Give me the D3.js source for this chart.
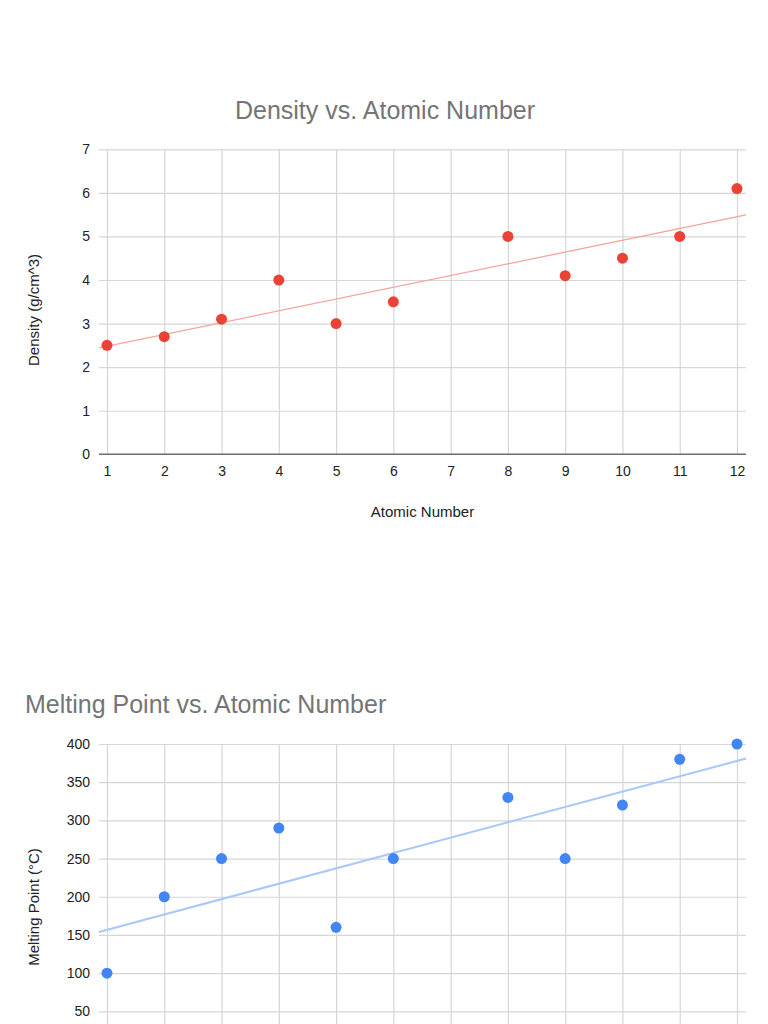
<!DOCTYPE html>
<html>
<head>
<meta charset="utf-8">
<script src="https://cdn.jsdelivr.net/npm/d3@7"></script>
<style>
  html, body { margin: 0; padding: 0; background: #fff; overflow: hidden; }
  svg { display: block; font-family: "Liberation Sans", Arial, sans-serif; }
</style>
</head>
<body>
<div id="chart"></div>
<script>
// atomic numbers (7 has no reading)
const atomicNumbers = [1, 2, 3, 4, 5, 6, 8, 9, 10, 11, 12];
const xTicks = [1, 2, 3, 4, 5, 6, 7, 8, 9, 10, 11, 12];

const densityValues = [2.5, 2.7, 3.1, 4.0, 3.0, 3.5, 5.0, 4.1, 4.5, 5.0, 6.1];
const densityTicks = [0, 1, 2, 3, 4, 5, 6, 7];

const meltingValues = [100, 200, 250, 290, 160, 250, 330, 250, 320, 380, 400];
const meltingTicks = [0, 50, 100, 150, 200, 250, 300, 350, 400];

const width = 768;
const height = 1024;

const svg = d3.select('#chart')
  .append('svg')
  .attr('width', width)
  .attr('height', height);

// least squares fit, same as the sheet's linear trendline
function linearFit(xs, ys) {
  const mx = d3.mean(xs);
  const my = d3.mean(ys);
  let sxy = 0, sxx = 0;
  xs.forEach((x, i) => {
    sxy += (x - mx) * (ys[i] - my);
    sxx += (x - mx) * (x - mx);
  });
  const slope = sxy / sxx;
  return { slope, intercept: my - slope * mx };
}

function drawChart(opts) {
  const g = svg.append('g');
  const plot = opts.plot;

  const xScale = d3.scaleLinear()
    .domain([1, 12])
    .range([plot.left + 8, plot.right - 9]);

  const yScale = d3.scaleLinear()
    .domain(d3.extent(opts.yTicks))
    .range([plot.bottom, plot.top]);

  // horizontal gridlines
  g.append('g')
    .attr('transform', `translate(${plot.left}, 0)`)
    .call(d3.axisLeft(yScale)
      .tickValues(opts.yTicks.filter((d) => d !== 0))
      .tickFormat('')
      .tickSize(-(plot.right - plot.left)))
    .call((ax) => ax.select('.domain').remove())
    .call((ax) => ax.selectAll('line').attr('stroke', '#d6d6d6').attr('stroke-width', 1.2));

  // vertical gridlines
  g.append('g')
    .attr('transform', `translate(0, ${plot.bottom})`)
    .call(d3.axisBottom(xScale)
      .tickValues(xTicks)
      .tickFormat('')
      .tickSize(-(plot.bottom - plot.top)))
    .call((ax) => ax.select('.domain').remove())
    .call((ax) => ax.selectAll('line').attr('stroke', '#d6d6d6').attr('stroke-width', 1.2));

  // baseline at zero
  g.append('line')
    .attr('x1', plot.left)
    .attr('x2', plot.right)
    .attr('y1', yScale(0))
    .attr('y2', yScale(0))
    .attr('stroke', '#6e6e6e')
    .attr('stroke-width', 1.5);

  // y tick labels (only those that fall inside the page)
  g.append('g')
    .attr('transform', `translate(${plot.left}, 0)`)
    .call(d3.axisLeft(yScale)
      .tickValues(opts.yTicks.filter((d) => yScale(d) < height - 8))
      .tickFormat(d3.format('d'))
      .tickSize(0)
      .tickPadding(9))
    .call((ax) => ax.select('.domain').remove())
    .call((ax) => ax.selectAll('text')
      .attr('font-size', 14)
      .attr('font-family', '"Liberation Sans", Arial, sans-serif')
      .attr('fill', '#222'));

  // x tick labels
  if (yScale(0) < height - 20) {
    g.append('g')
      .attr('transform', `translate(0, ${yScale(0)})`)
      .call(d3.axisBottom(xScale).tickValues(xTicks).tickSize(0).tickPadding(12))
      .call((ax) => ax.select('.domain').remove())
      .call((ax) => ax.selectAll('text')
        .attr('font-size', 14)
        .attr('font-family', '"Liberation Sans", Arial, sans-serif')
        .attr('fill', '#222'));
  }

  // trendline across the plot area
  const fit = linearFit(atomicNumbers, opts.values);
  const x0 = xScale.invert(plot.left);
  const x1 = xScale.invert(plot.right);
  g.append('line')
    .attr('x1', xScale(x0))
    .attr('y1', yScale(fit.intercept + fit.slope * x0))
    .attr('x2', xScale(x1))
    .attr('y2', yScale(fit.intercept + fit.slope * x1))
    .attr('stroke', opts.trendColor)
    .attr('stroke-width', opts.trendWidth);

  // points
  g.append('g')
    .selectAll('circle')
    .data(atomicNumbers.map((x, i) => ({ x, y: opts.values[i] })))
    .join('circle')
    .attr('cx', (d) => xScale(d.x))
    .attr('cy', (d) => yScale(d.y))
    .attr('r', 5.5)
    .attr('fill', opts.color);

  // titles
  g.append('text')
    .attr('x', opts.title.x)
    .attr('y', opts.title.y)
    .attr('text-anchor', opts.title.anchor)
    .attr('font-size', 25)
    .attr('fill', '#757575')
    .text(opts.title.text);

  g.append('text')
    .attr('transform', `translate(${opts.yLabel.x}, ${opts.yLabel.y}) rotate(-90)`)
    .attr('text-anchor', 'middle')
    .attr('font-size', 15)
    .attr('fill', '#222')
    .text(opts.yLabel.text);

  if (opts.xLabel) {
    g.append('text')
      .attr('x', (plot.left + plot.right) / 2)
      .attr('y', opts.xLabel.y)
      .attr('text-anchor', 'middle')
      .attr('font-size', 15)
      .attr('fill', '#222')
      .text(opts.xLabel.text);
  }
}

drawChart({
  values: densityValues,
  yTicks: densityTicks,
  plot: { left: 99, right: 746, top: 149.3, bottom: 454.3 },
  color: '#ea4335',
  trendColor: '#f4a49c',
  trendWidth: 1.3,
  title: { text: 'Density vs. Atomic Number', x: 385, y: 119, anchor: 'middle' },
  yLabel: { text: 'Density (g/cm^3)', x: 39, y: 310 },
  xLabel: { text: 'Atomic Number', y: 517 },
});

drawChart({
  values: meltingValues,
  yTicks: meltingTicks,
  plot: { left: 99, right: 746, top: 744, bottom: 1049.5 },
  color: '#4285f4',
  trendColor: '#a8c7fa',
  trendWidth: 2,
  title: { text: 'Melting Point vs. Atomic Number', x: 25, y: 713, anchor: 'start' },
  yLabel: { text: 'Melting Point (°C)', x: 39, y: 907 },
});
</script>
</body>
</html>
